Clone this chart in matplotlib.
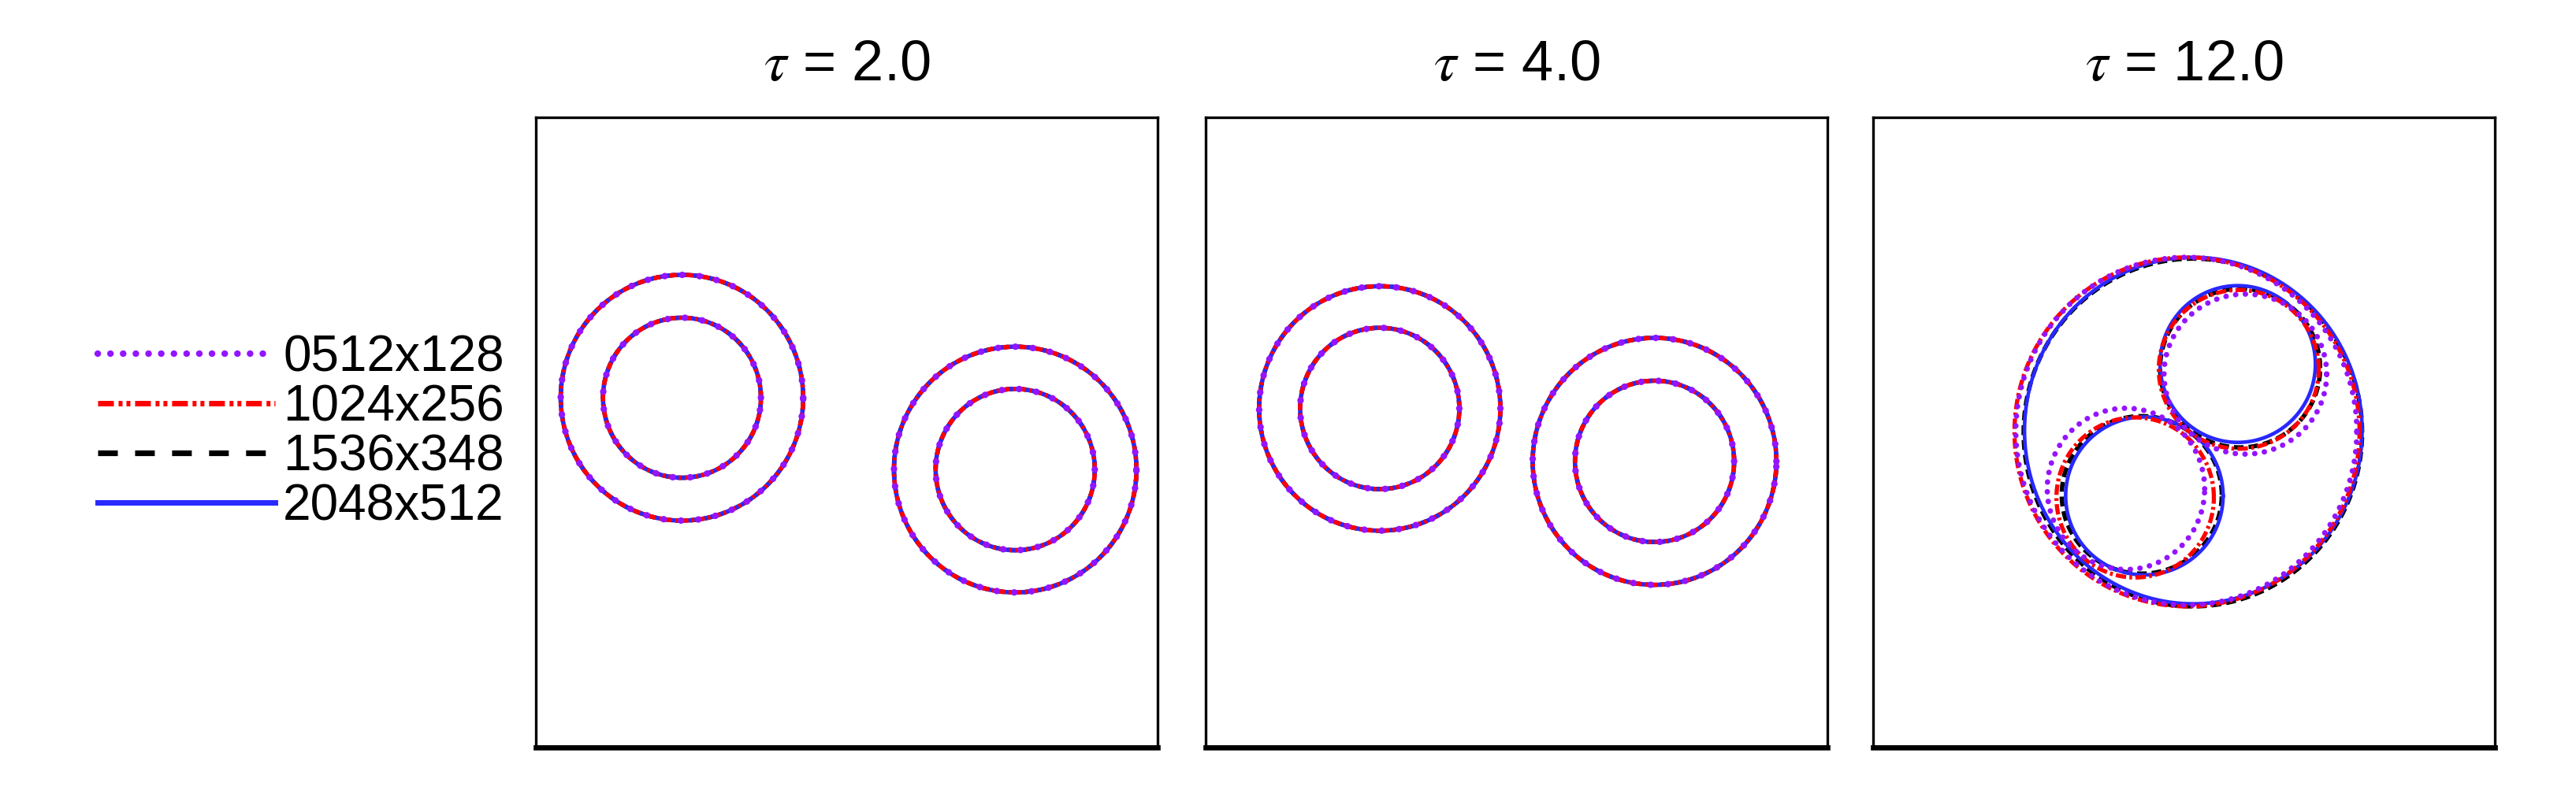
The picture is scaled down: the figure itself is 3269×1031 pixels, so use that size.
import numpy as np
import matplotlib
matplotlib.use("Agg")
import matplotlib.pyplot as plt
from matplotlib.lines import Line2D

plt.rcParams['font.family'] = ['Liberation Sans', 'DejaVu Sans']
plt.rcParams['mathtext.fontset'] = 'stix'
plt.rcParams['lines.scale_dashes'] = False

# ---------------- data ----------------
taus = [2.0, 4.0, 12.0]
labels = ['0512x128', '1024x256', '1536x348', '2048x512']
colors = ['#9414FF', '#FF0000', '#000000', '#2828FF']

# panels 1 and 2: all resolutions coincide (two rings, each = outer + inner circle)
p1_cx = [0.235, 0.235, 0.771, 0.771]
p1_cy = [0.555, 0.555, 0.441, 0.441]
p1_r = [0.195, 0.127, 0.195, 0.128]

p2_cx = [0.280, 0.280, 0.722, 0.722]
p2_cy = [0.538, 0.538, 0.454, 0.454]
p2_r = [0.194, 0.128, 0.196, 0.128]

# panel 3: per resolution -> [big, upper-right, lower-left]
p3_cx = {
    '0512x128': [0.5038, 0.5987, 0.4067],
    '1024x256': [0.5049, 0.5882, 0.4215],
    '1536x348': [0.5143, 0.5903, 0.4321],
    '2048x512': [0.5150, 0.5865, 0.4363],
}
p3_cy = {
    '0512x128': [0.5019, 0.5925, 0.4104],
    '1024x256': [0.5008, 0.6000, 0.3967],
    '1536x348': [0.4998, 0.6021, 0.4008],
    '2048x512': [0.5029, 0.6085, 0.3992],
}
p3_rx = {
    '0512x128': [0.2743, 0.1308, 0.1266],
    '1024x256': [0.2775, 0.1287, 0.1266],
    '1536x348': [0.2722, 0.1287, 0.1287],
    '2048x512': [0.2715, 0.1249, 0.1266],
}
p3_ry = {
    '0512x128': [0.2760, 0.1270, 0.1280],
    '1024x256': [0.2770, 0.1260, 0.1270],
    '1536x348': [0.2760, 0.1260, 0.1250],
    '2048x512': [0.2750, 0.1244, 0.1254],
}

# ---------------- styles (widths/dashes in points) ----------------
def style(i, mode):
    c = colors[i]
    if mode == 'legend':
        lw = [6.0, 5.0, 5.2, 5.0][i]
        dots, dashdot, dash = (0.1, 11.5), (14.4, 4.3, 3.6, 3.6, 3.6, 4.3), (18.0, 15.8)
    elif mode == 'rings':
        lw = [6.0, 4.0, 4.0, 4.0][i]
        dots, dashdot, dash = (0.1, 15.8), (6.5, 3.0, 2.5, 3.0), (8.0, 5.0)
    else:
        lw = [5.0, 3.8, 4.0, 3.3][i]
        dots, dashdot, dash = (0.1, 8.8), (9.5, 3.0, 2.5, 3.0), (9.0, 4.5)
    if i == 0:
        return dict(color=c, lw=lw, dashes=dots, dash_capstyle='round', zorder=5)
    if i == 1:
        return dict(color=c, lw=lw, dashes=dashdot, dash_capstyle='butt', zorder=4)
    if i == 2:
        return dict(color=c, lw=lw, dashes=dash, dash_capstyle='butt', zorder=2)
    return dict(color=c, lw=lw, linestyle='-', zorder=3)

theta = np.linspace(0, 2 * np.pi, 721)

W, H = 3269, 1031
fig = plt.figure(figsize=(W / 100, H / 100), dpi=100)

lefts = [680, 1530, 2377]
ax_w, ax_h = 789, 800
ax_bottom = H - 949

for k, tau in enumerate(taus):
    ax = fig.add_axes([lefts[k] / W, ax_bottom / H, ax_w / W, ax_h / H])
    ax.set_xlim(0, 1)
    ax.set_ylim(0, 1)
    ax.set_xticks([])
    ax.set_yticks([])
    for s in ['left', 'right', 'top']:
        ax.spines[s].set_linewidth(2.4)
    ax.spines['bottom'].set_linewidth(4.8)
    ax.set_title(r'$\tau$ = %.1f' % tau, fontsize=52, pad=34)

    for i, lab in enumerate(labels):
        if k < 2:
            st = style(i, 'rings')
            cx, cy, rr = (p1_cx, p1_cy, p1_r) if k == 0 else (p2_cx, p2_cy, p2_r)
            for x0, y0, r in zip(cx, cy, rr):
                ax.plot(x0 + r * np.cos(theta), y0 + r * np.sin(theta), **st)
        else:
            st = style(i, 'merge')
            for x0, y0, rx, ry in zip(p3_cx[lab], p3_cy[lab], p3_rx[lab], p3_ry[lab]):
                ax.plot(x0 + rx * np.cos(theta), y0 + ry * np.sin(theta), **st)

handles = [Line2D([], [], **style(i, 'legend')) for i in range(4)]
fig.legend(handles, labels, loc='center left', bbox_to_anchor=(124 / W, (H - 549) / H),
           frameon=False, fontsize=46, handlelength=3.52, handletextpad=0.16,
           borderpad=0, borderaxespad=0, labelspacing=0.05)

fig.savefig('out.png', dpi=100)
